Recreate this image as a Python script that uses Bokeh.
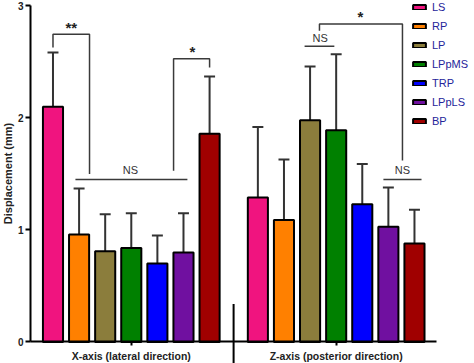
from bokeh.plotting import figure
from bokeh.models import Range1d, Legend, LegendItem, FixedTicker, CustomJSTickFormatter
from bokeh.embed import file_html
from bokeh.resources import INLINE
from bokeh.core.properties import value

# ---- data ----
categories = ["LS", "RP", "LP", "LPpMS", "TRP", "LPpLS", "BP"]
colors = ["#f0147f", "#ff8000", "#8b7d3c", "#008000", "#0000ff", "#7010a0", "#a00000"]
x_axis_mean = [2.10, 0.96, 0.81, 0.84, 0.70, 0.80, 1.86]
x_axis_sd = [0.485, 0.41, 0.33, 0.31, 0.25, 0.35, 0.51]
z_axis_mean = [1.29, 1.09, 1.98, 1.89, 1.23, 1.03, 0.88]
z_axis_sd = [0.63, 0.54, 0.48, 0.68, 0.36, 0.35, 0.30]
group_labels = ["X-axis (lateral direction)", "Z-axis (posterior direction)"]
y_ticks = [0, 1, 2, 3]

# significance annotations: (polyline xs, polyline ys, label, label x, label y, kind)
brackets = [
    ([0, 0, 1.40, 1.40], [2.63, 2.748, 2.748, 1.50], "**", 0.70, 2.81, "star"),
    ([4.62, 4.62, 6.0, 6.0], [1.53, 2.53, 2.53, 2.45], "*", 5.34, 2.595, "star"),
    ([0.86, 5.15], [1.45, 1.45], "NS", 2.97, 1.535, "ns"),
    ([9.64, 10.78], [2.64, 2.64], "NS", 10.24, 2.71, "ns"),
    ([10.21, 10.21, 13.39, 13.39], [2.78, 2.84, 2.84, 1.62], "*", 11.78, 2.905, "star"),
    ([12.66, 14.12], [1.45, 1.45], "NS", 13.39, 1.535, "ns"),
]

group_offsets = [0.0, 7.85]
bar_w = 0.77
cap_w = 0.42
axis_start = -0.86
FONT = "Liberation Sans"

p = figure(width=474, height=363, output_backend="svg", toolbar_location=None,
           x_range=Range1d(-2.011, 16.15), y_range=Range1d(-0.192, 3.049),
           min_border_left=0, min_border_right=0, min_border_top=0, min_border_bottom=0)
p.outline_line_color = None
p.grid.visible = False
p.background_fill_color = "white"

# error bars (upper only)
ex, ey0, ey1, cx0, cx1, cy = [], [], [], [], [], []
for off, means, sds in [(group_offsets[0], x_axis_mean, x_axis_sd), (group_offsets[1], z_axis_mean, z_axis_sd)]:
    for i, (m, s) in enumerate(zip(means, sds)):
        xc = off + i
        ex.append(xc); ey0.append(m); ey1.append(m + s)
        cx0.append(xc - cap_w / 2); cx1.append(xc + cap_w / 2); cy.append(m + s)
p.segment(x0=ex, y0=ey0, x1=ex, y1=ey1, line_color="#333333", line_width=2)
p.segment(x0=cx0, y0=cy, x1=cx1, y1=cy, line_color="#333333", line_width=2)

items = []
for i, cat in enumerate(categories):
    xs = [group_offsets[0] + i, group_offsets[1] + i]
    tops = [x_axis_mean[i], z_axis_mean[i]]
    r = p.vbar(x=xs, top=tops, bottom=0, width=bar_w, fill_color=colors[i],
               line_color="black", line_width=2)
    items.append(LegendItem(label=cat, renderers=[r]))

# brackets and labels
for xs, ys, lab, lx, ly, kind in brackets:
    p.line(xs, ys, line_color="#3a3a3a", line_width=1.5)
    if kind == "star":
        p.text([lx], [ly], text=[lab], text_font=value(FONT), text_font_size="15px",
               text_font_style="bold", text_align="center", text_baseline="middle", text_color="#222222")
    else:
        p.text([lx], [ly], text=[lab], text_font=value(FONT), text_font_size="11px",
               text_align="center", text_baseline="middle", text_color="#333333")

# axis break line
p.segment(x0=[6.92], y0=[0.34], x1=[6.92], y1=[-0.192], line_color="black", line_width=2)

# axes
xa = p.xaxis[0]
xa.fixed_location = 0
xa.bounds = (axis_start, 14.7)
xa.ticker = FixedTicker(ticks=[group_offsets[0] + 3, group_offsets[1] + 3])
xa.formatter = CustomJSTickFormatter(args=dict(labels=group_labels),
                                     code="return tick < 7 ? labels[0] : labels[1];")
xa.axis_line_width = 2
xa.major_tick_line_width = 2
xa.major_tick_in = 0
xa.major_tick_out = 4
xa.minor_tick_line_color = None
xa.major_label_text_font = FONT
xa.major_label_text_font_size = "10.5px"
xa.major_label_text_font_style = "bold"
xa.major_label_text_color = "#222222"
xa.major_label_standoff = 4

ya = p.yaxis[0]
ya.fixed_location = axis_start
ya.bounds = (0, 3)
ya.ticker = FixedTicker(ticks=y_ticks)
ya.axis_line_width = 2
ya.major_tick_line_width = 2
ya.major_tick_in = 0
ya.major_tick_out = 5
ya.minor_tick_line_color = None
ya.major_label_text_font = FONT
ya.major_label_text_font_size = "10px"
ya.major_label_text_font_style = "bold"
ya.major_label_text_color = "#222222"
ya.major_label_standoff = 2
ya.axis_label = "Displacement (mm)"
ya.axis_label_text_font = FONT
ya.axis_label_text_font_size = "11px"
ya.axis_label_text_font_style = "bold"
ya.axis_label_text_color = "#222222"
ya.axis_label_standoff = 1

legend = Legend(items=items, location=(411, 236), glyph_width=16, glyph_height=6,
                label_height=13, spacing=6, padding=0, margin=0, label_standoff=5,
                label_text_font=FONT, label_text_font_size="11px", label_text_color="#24249a",
                background_fill_alpha=0, border_line_color=None)
p.add_layout(legend)

open("out.html", "w").write(file_html(p, INLINE))
